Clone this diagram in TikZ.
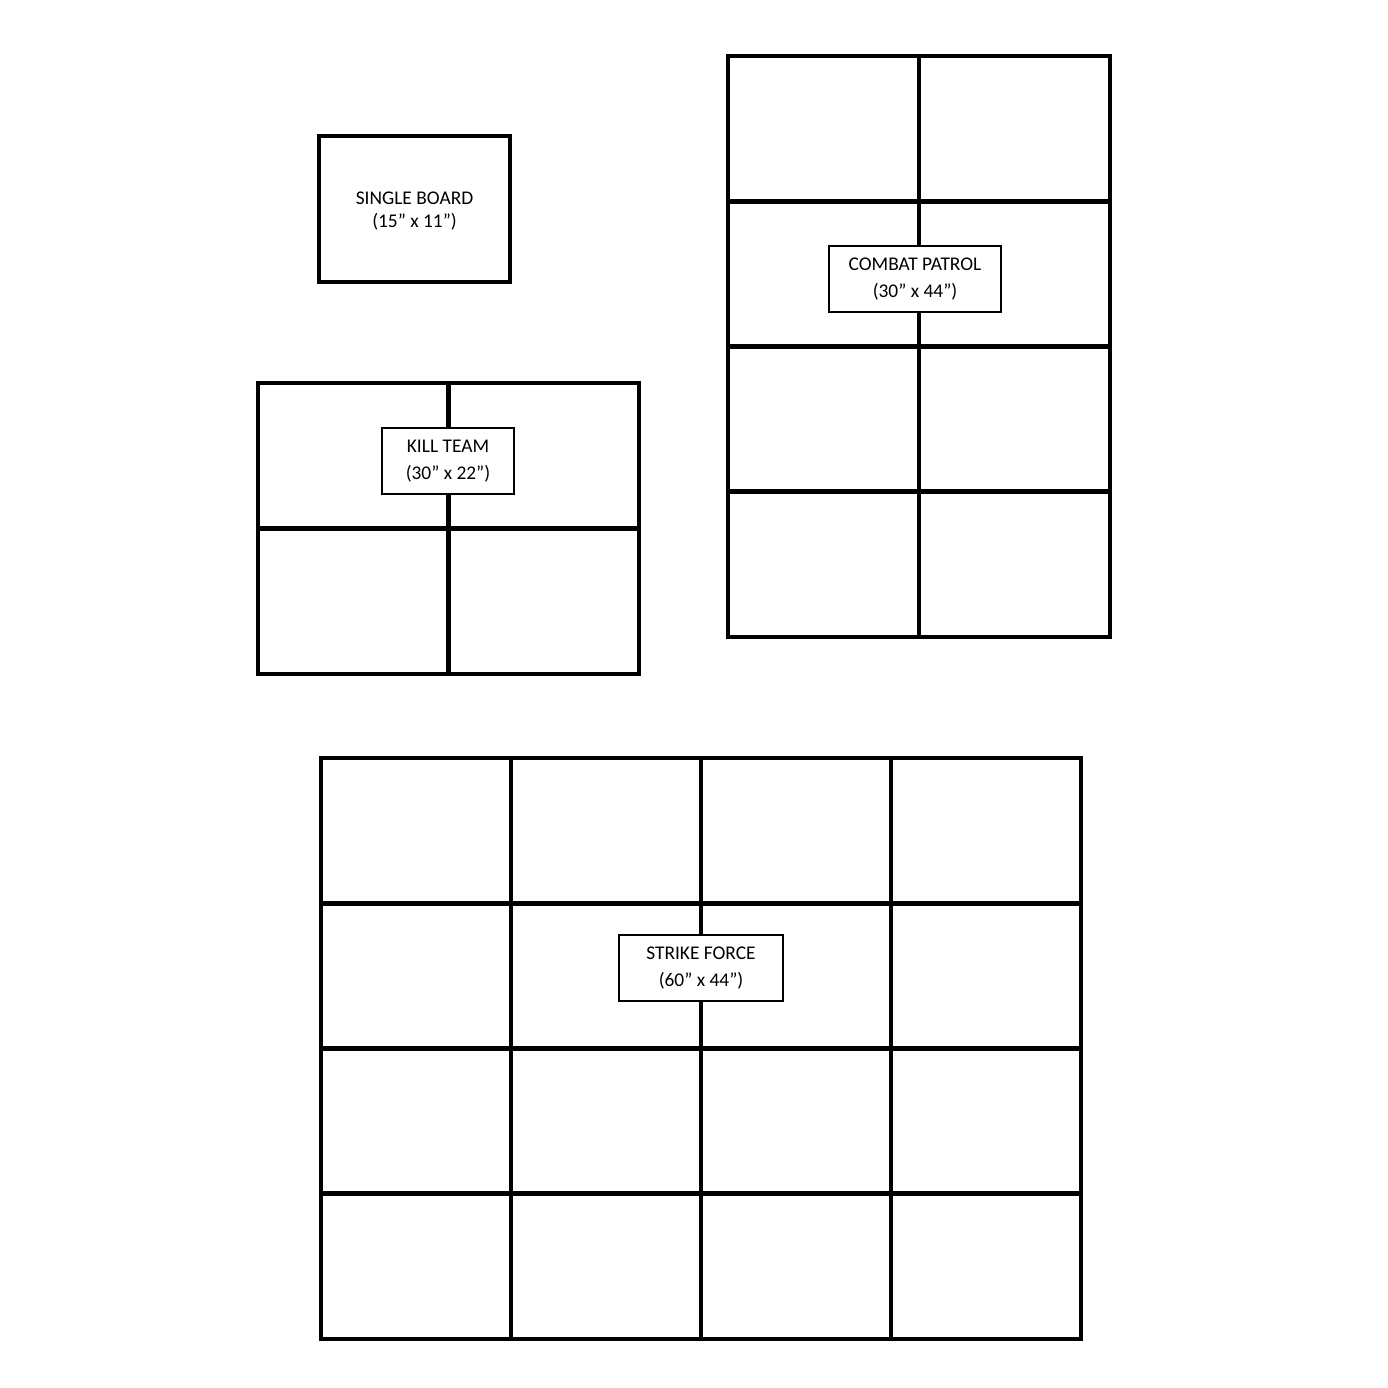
\documentclass[tikz,border=0pt]{standalone}
\usepackage{fontspec}
\setmainfont{Carlito}
\begin{document}
\begin{tikzpicture}[x=0.5pt,y=-0.5pt,
  board/.style={line width=2.4pt,line cap=rect},
  tag/.style={draw,fill=white,line width=0.7pt,align=center,inner xsep=4pt,inner ysep=6pt,
    font=\fontsize{9.7}{13.5}\selectfont}]
    \useasboundingbox (0,0) rectangle (1388,1388);

    % single board
    \draw[board] (319,136) rectangle (510,282);
    \node[align=center,font=\fontsize{9.7}{11.5}\selectfont] (single) at (414.5,211) {SINGLE BOARD\\(15” x 11”)};

    % kill team
    \draw[board] (258,383) rectangle (639,674);
    \draw[board] (448.5,383) -- (448.5,674);
    \draw[board] (258,528.5) -- (639,528.5);
    \node[tag,minimum width=66pt] (killteam) at (448,461) {KILL TEAM\\(30” x 22”)};

    % combat patrol
    \draw[board] (728,56) rectangle (1110,637);
    \draw[board] (919,56) -- (919,637);
    \foreach \y in {201.25,346.5,491.75}
        \draw[board] (728,\y) -- (1110,\y);
    \node[tag,minimum width=86pt] (patrol) at (915,279) {COMBAT PATROL\\(30” x 44”)};

    % strike force
    \draw[board] (321,758) rectangle (1081,1339);
    \foreach \x in {511,701,891}
        \draw[board] (\x,758) -- (\x,1339);
    \foreach \y in {903.25,1048.5,1193.75}
        \draw[board] (321,\y) -- (1081,\y);
    \node[tag,minimum width=82pt] (strike) at (701,968) {STRIKE FORCE\\(60” x 44”)};
\end{tikzpicture}
\end{document}
